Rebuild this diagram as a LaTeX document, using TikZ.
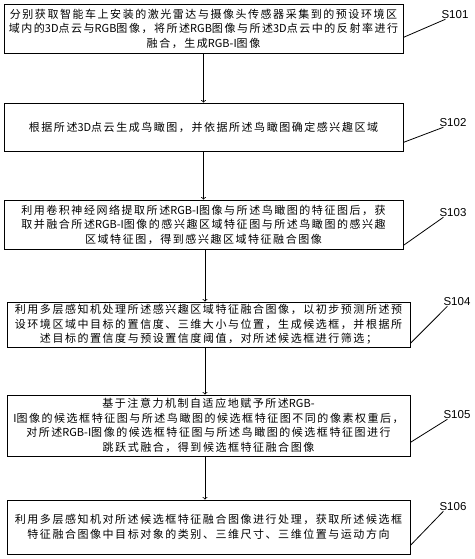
\documentclass[tikz,border=0pt]{standalone}
\usepackage{fontspec}
\newfontfamily\cjk[LetterSpace=14]{Noto Sans CJK SC}
\newfontfamily\cjklatn{Noto Sans CJK SC}
\newfontfamily\lab{Liberation Sans}
\newcommand{\latn}[1]{{\cjklatn #1}}
\tikzset{
  stepbox/.style={draw,thick,align=center,inner sep=0pt,
    font=\cjk\fontsize{11pt}{14.5pt}\selectfont},
  steplabel/.style={font=\lab\fontsize{11.5pt}{13pt}\selectfont,inner sep=1pt}
}
\begin{document}
\begin{tikzpicture}[x=1pt,y=-1pt,>=to]
\useasboundingbox (0,0) rectangle (474,559);
\node[stepbox,minimum width=399pt,minimum height=49pt] (b1) at (203.5,28.5)
  {分别获取智能车上安装的激光雷达与摄像头传感器采集到的预设环境区\\域内的\latn{3D}点云与\latn{RGB}图像，将所述\latn{RGB}图像与所述\latn{3D}点云中的反射率进行\\融合，生成\latn{RGB-I}图像};
\node[stepbox,minimum width=399pt,minimum height=48pt] (b2) at (203.5,127)
  {根据所述\latn{3D}点云生成鸟瞰图，并依据所述鸟瞰图确定感兴趣区域};
\node[stepbox,minimum width=399pt,minimum height=49pt] (b3) at (203.5,224.5)
  {利用卷积神经网络提取所述\latn{RGB-I}图像与所述鸟瞰图的特征图后，获\\取并融合所述\latn{RGB-I}图像的感兴趣区域特征图与所述鸟瞰图的感兴趣\\区域特征图，得到感兴趣区域特征融合图像};
\node[stepbox,minimum width=403pt,minimum height=45pt] (b4) at (208.5,324.5)
  {利用多层感知机处理所述感兴趣区域特征融合图像，以初步预测所述预\\设环境区域中目标的置信度、三维大小与位置，生成候选框，并根据所\\述目标的置信度与预设置信度阈值，对所述候选框进行筛选；};
\node[stepbox,minimum width=403pt,minimum height=61pt] (b5) at (208.5,425.5)
  {基于注意力机制自适应地赋予所述\latn{RGB-}\\\latn{I}图像的候选框特征图与所述鸟瞰图的候选框特征图不同的像素权重后，\\对所述\latn{RGB-I}图像的候选框特征图与所述鸟瞰图的候选框特征图进行\\跳跃式融合，得到候选框特征融合图像};
\node[stepbox,minimum width=403pt,minimum height=54pt] (b6) at (208.5,527)
  {利用多层感知机对所述候选框特征融合图像进行处理，获取所述候选框\\特征融合图像中目标对象的类别、三维尺寸、三维位置与运动方向};

% step numbers
\node[steplabel] (l1) at (455,15) {S101};
\node[steplabel] (l2) at (453,123) {S102};
\node[steplabel] (l3) at (453,213) {S103};
\node[steplabel] (l4) at (457,302) {S104};
\node[steplabel] (l5) at (457,415) {S105};
\node[steplabel] (l6) at (453,507) {S106};

\draw[thick] ([yshift=16pt]b1.south east) -- ([xshift=5pt,yshift=1pt]l1.south west);
\draw[thick] ([yshift=9pt]b2.south east) -- ([xshift=5pt,yshift=1pt]l2.south west);
\draw[thick] ([yshift=4pt]b3.south east) -- ([xshift=5pt,yshift=1pt]l3.south west);
\draw[thick] ([yshift=4pt]b4.south east) -- ([xshift=5pt,yshift=1pt]l4.south west);
\draw[thick] ([yshift=14pt]b5.south east) -- ([xshift=5pt,yshift=1pt]l5.south west);
\draw[thick] ([yshift=9pt]b6.south east) -- ([xshift=5pt,yshift=1pt]l6.south west);

% arrows
\draw[->,thick] (b1.south) -- (b2.north);
\draw[->,thick] (b2.south) -- (b3.north);
\draw[->,thick] ([xshift=1.5pt]b3.south) -- ([xshift=1.5pt]b3.south |- b4.north);
\draw[->,thick] ([xshift=-3.5pt]b4.south) -- ([xshift=-3.5pt]b4.south |- b5.north);
\draw[->,thick] ([xshift=-3.5pt]b5.south) -- ([xshift=-3.5pt]b5.south |- b6.north);
\end{tikzpicture}
\end{document}
